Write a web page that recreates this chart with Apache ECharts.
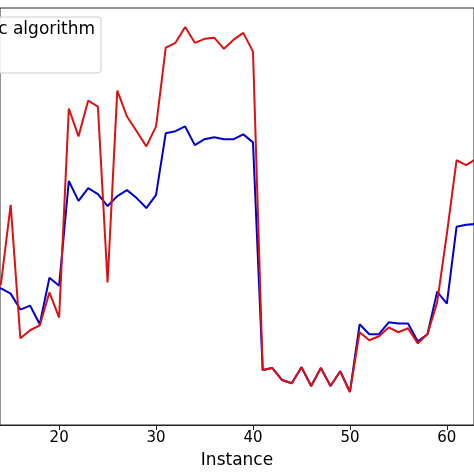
<!DOCTYPE html>
<html>
<head>
<meta charset="utf-8">
<script src="https://cdn.jsdelivr.net/npm/echarts@6/dist/echarts.min.js"></script>
<style>html,body{margin:0;padding:0;background:#fff}#chart{width:474px;height:474px}</style>
</head>
<body>
<div id="chart"></div>
<script>
// instance numbers 13..63
var instances = [];
for (var i = 13; i <= 63; i++) instances.push(i);
var tickValues = [20, 30, 40, 50, 60];

var blueValues = [34.8,34.3,33,29,30,25.3,37,35,61.3,56.3,59.5,58,55,57.5,59,57,54.5,57.8,
    73.3,73.8,75,70.3,71.8,72.3,71.8,71.8,73,71,13.8,14.3,11.3,10.5,14.5,9.8,14.3,9.8,13.5,8.3,
    25.3,22.8,22.8,25.8,25.5,25.5,21,22.8,33.5,30.5,49.8,50.3,50.5];
var redValues = [31.8,35.5,55.3,21.8,23.8,25,33.3,27,79.5,72.5,81.5,80,35.8,84,77.5,73.8,70,75,
    94.8,96,100,96,97,97.3,94.5,96.8,98.5,93.8,13.8,14.3,11.3,10.5,14.5,9.8,14.3,9.8,13.5,8.3,
    23.3,21.3,22.3,24.5,23.3,24.3,20.5,22.8,30.8,48,66.5,65.3,66.8];

function pairs(vals) {
    return instances.map(function(x, k) { return [x, vals[k]]; });
}

var myChart = echarts.init(document.getElementById('chart'));
var option = {
    animation: false,
    grid: {left: -2, right: -2, top: 8, bottom: 47, show: true, borderColor: '#222', borderWidth: 1},
    xAxis: {
        type: 'value', min: 13.9, max: 62.8,
        name: 'Instance', nameLocation: 'middle', nameGap: 27,
        nameTextStyle: {fontSize: 17, color: '#000', fontFamily: 'DejaVu Sans'},
        axisLine: {lineStyle: {color: '#222'}},
        axisTick: {show: true, length: 5, customValues: tickValues, lineStyle: {color: '#222'}},
        axisLabel: {fontSize: 15, color: '#000', fontFamily: 'DejaVu Sans', customValues: tickValues, margin: 6},
        splitLine: {show: false}
    },
    yAxis: {
        type: 'value', min: 0, max: 104.75,
        axisLine: {show: false}, axisTick: {show: false}, axisLabel: {show: false}, splitLine: {show: false}
    },
    series: [
        {name: 'Blue', type: 'line', data: pairs(blueValues), symbol: 'none',
            lineStyle: {color: '#0000cc', width: 2}},
        {name: 'Genetic algorithm', type: 'line', data: pairs(redValues), symbol: 'none',
            lineStyle: {color: '#dd1111', width: 2}}
    ],
    graphic: [
        {type: 'rect', shape: {x: -20, y: 17, width: 121, height: 56, r: 3},
            style: {fill: 'rgba(255,255,255,0.85)', stroke: '#ccc', lineWidth: 1}},
        {type: 'text', x: 95, y: 21,
            style: {text: 'Genetic algorithm', fontSize: 17, fill: '#000', fontFamily: 'DejaVu Sans', textAlign: 'right'}}
    ]
};
myChart.setOption(option);
</script>
</body>
</html>
